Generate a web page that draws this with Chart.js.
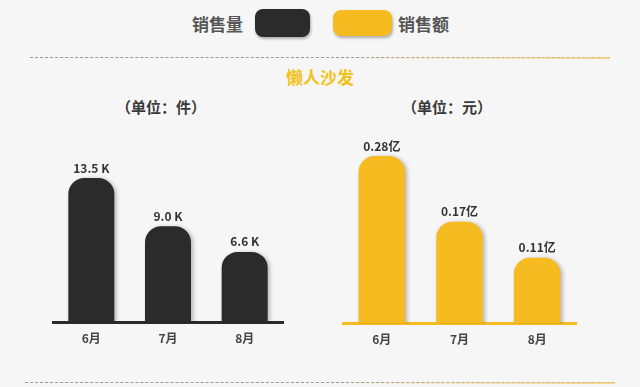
<!DOCTYPE html>
<html>
<head>
<meta charset="utf-8">
<script src="https://cdn.jsdelivr.net/npm/chart.js@4"></script>
<style>
  html, body { margin: 0; padding: 0; }
  body {
    width: 640px; height: 387px; position: relative; overflow: hidden;
    background: #f6f6f6;
    font-family: "Noto Sans CJK SC", "Noto Sans", sans-serif;
  }
  .abs { position: absolute; }
  .legend-text { font-size: 17px; font-weight: 700; color: #555; top: 11px; }
  .swatch { border-radius: 8px; box-shadow: 1px 2px 3px rgba(0,0,0,0.3); }
  .dash {
    height: 0; border-top: 1.5px dashed #9a9a9a;
  }
  .dash-fade {
    height: 1.5px;
    background: linear-gradient(to right, rgba(246,246,246,0), rgba(242,205,120,0.8));
  }
  .title { left: 0; width: 640px; text-align: center; top: 64px; font-size: 17px; font-weight: 700; color: #f2c21c; }
  .unit { font-size: 15px; font-weight: 700; color: #3a3a3a; top: 96px; }
  canvas { position: absolute; }
</style>
</head>
<body>
<div class="abs legend-text" style="left:192px;">销售量</div>
<div class="abs swatch" style="left:255px; top:9px; width:55px; height:28px; background:#2b2b2b;"></div>
<div class="abs swatch" style="left:333px; top:10px; width:59px; height:26px; background:#f7bb22;"></div>
<div class="abs legend-text" style="left:398px;">销售额</div>

<div class="abs dash" style="left:30px; top:57px; width:580px;"></div>
<div class="abs dash-fade" style="left:330px; top:57px; width:280px;"></div>

<div class="abs title">懒人沙发</div>
<div class="abs unit" style="left:116px;">（单位：件）</div>
<div class="abs unit" style="left:402px;">（单位：元）</div>

<canvas id="qtyChart" style="left:38px; top:130px;" width="260" height="230"></canvas>
<canvas id="amtChart" style="left:328px; top:130px;" width="262" height="230"></canvas>

<div class="abs dash" style="left:25px; top:382px; width:590px;"></div>
<div class="abs dash-fade" style="left:320px; top:382px; width:295px;"></div>

<script>
const months = ['6月', '7月', '8月'];
const qtyValues = [13.5, 9.0, 6.6];          // 销售量, K件
const qtyLabels = ['13.5 K', '9.0 K', '6.6 K'];
const amtValues = [0.28, 0.17, 0.11];        // 销售额, 亿元
const amtLabels = ['0.28亿', '0.17亿', '0.11亿'];

const DARK = '#2b2b2b';
const YELLOW = '#f7bb22';

// bar shadow + value text above each bar
const barExtras = {
    id: 'barExtras',
    beforeDatasetDraw(chart) {
        const ctx = chart.ctx;
        ctx.save();
        ctx.shadowColor = 'rgba(0,0,0,0.28)';
        ctx.shadowBlur = 4;
        ctx.shadowOffsetX = 2;
        ctx.shadowOffsetY = 1;
    },
    afterDatasetDraw(chart) {
        chart.ctx.restore();
    },
    afterDatasetsDraw(chart, args, opts) {
        const ctx = chart.ctx;
        const meta = chart.getDatasetMeta(0);
        ctx.save();
        ctx.font = "bold 12px 'Noto Sans CJK SC', sans-serif";
        ctx.fillStyle = '#333';
        ctx.textAlign = 'center';
        ctx.textBaseline = 'bottom';
        meta.data.forEach((bar, i) => {
            ctx.fillText(opts.labels[i], bar.x, bar.y - 4);
        });
        ctx.restore();
    }
};

function makeChart(id, values, labels, color, yMax, pad) {
    return new Chart(document.getElementById(id), {
        type: 'bar',
        data: {
            labels: months,
            datasets: [{
                data: values,
                backgroundColor: color,
                borderRadius: { topLeft: 16, topRight: 16 },
                borderSkipped: 'bottom',
                barPercentage: 0.6,
                categoryPercentage: 1
            }]
        },
        options: {
            responsive: false,
            animation: false,
            layout: { padding: pad },
            plugins: {
                legend: { display: false },
                tooltip: { enabled: false },
                barExtras: { labels }
            },
            scales: {
                x: {
                    grid: { display: false, drawTicks: false },
                    border: { color: color, width: 3 },
                    ticks: {
                        color: '#444', padding: 9,
                        font: { size: 12, weight: 'bold', family: "'Noto Sans CJK SC', sans-serif" }
                    }
                },
                y: { display: false, min: 0, max: yMax }
            }
        },
        plugins: [barExtras]
    });
}

makeChart('qtyChart', qtyValues, qtyLabels, DARK, 15, { left: 15, right: 15, top: 32, bottom: 5 });
makeChart('amtChart', amtValues, amtLabels, YELLOW, 0.3, { left: 15, right: 14, top: 14, bottom: 4 });
</script>
</body>
</html>
